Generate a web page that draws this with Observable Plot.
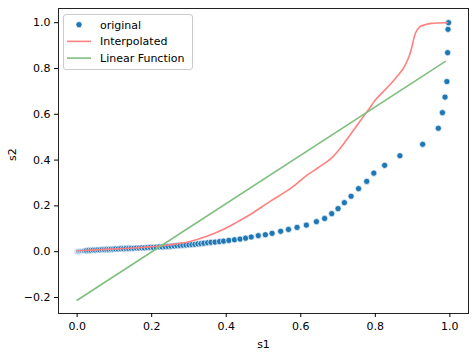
<!DOCTYPE html>
<html>
<head>
<meta charset="utf-8">
<script src="https://cdn.jsdelivr.net/npm/d3@7"></script>
<script src="https://cdn.jsdelivr.net/npm/@observablehq/plot@0.6"></script>
<style>
  html, body { margin: 0; padding: 0; background: white; }
  #chart svg { display: block; }
</style>
</head>
<body>
<div id="chart"></div>
<script>
// "original" scatter points
const origS1 = [0.000,0.004,0.009,0.014,0.019,0.025,0.031,0.037,0.043,0.049,0.055,0.061,0.067,0.073,0.079,0.085,0.091,0.097,0.103,0.110,
  0.117,0.124,0.131,0.138,0.145,0.152,0.159,0.166,0.173,0.180,0.188,0.196,0.204,0.212,0.220,0.228,0.236,0.244,0.252,0.260,
  0.268,0.276,0.284,0.292,0.300,0.308,0.316,0.324,0.332,0.340,0.350,0.359,0.370,0.382,0.393,0.407,0.422,0.437,0.452,0.467,
  0.486,0.505,0.523,0.546,0.567,0.590,0.615,0.642,0.664,0.683,0.700,0.717,0.735,0.755,0.777,0.796,0.825,0.866,0.927,0.969,
  0.980,0.987,0.992,0.994,0.995,0.9965];
const origS2 = [0.000,0.001,0.002,0.003,0.004,0.005,0.006,0.006,0.007,0.007,0.008,0.008,0.009,0.009,0.010,0.010,0.011,0.011,0.012,0.012,
  0.013,0.013,0.014,0.014,0.015,0.015,0.016,0.016,0.017,0.017,0.018,0.019,0.019,0.020,0.021,0.021,0.022,0.023,0.024,0.025,
  0.026,0.027,0.028,0.029,0.030,0.031,0.032,0.034,0.035,0.037,0.039,0.041,0.042,0.044,0.046,0.049,0.052,0.055,0.059,0.064,
  0.070,0.074,0.080,0.089,0.097,0.106,0.116,0.131,0.145,0.166,0.188,0.214,0.242,0.275,0.307,0.343,0.377,0.419,0.469,0.539,
  0.607,0.675,0.743,0.869,0.971,1.000];

// "Interpolated" curve
const interpS1 = [0.000,0.050,0.100,0.150,0.200,0.250,0.300,0.350,0.400,0.430,0.470,0.520,0.560,0.580,0.610,0.650,0.680,0.700,0.720,0.736,
  0.760,0.786,0.800,0.820,0.840,0.857,0.875,0.890,0.897,0.908,0.919,0.935,0.950,0.970,0.994];
const interpS2 = [0.004,0.008,0.012,0.016,0.022,0.030,0.043,0.068,0.103,0.130,0.168,0.222,0.262,0.285,0.326,0.370,0.405,0.440,0.482,0.518,
  0.572,0.630,0.662,0.697,0.730,0.763,0.800,0.850,0.887,0.955,0.982,0.992,0.997,0.999,1.000];

// "Linear Function"
const linS1 = [0.000, 0.988];
const linS2 = [-0.212, 0.831];

const xTicks = [0.0, 0.2, 0.4, 0.6, 0.8, 1.0];
const yTicks = [-0.2, 0.0, 0.2, 0.4, 0.6, 0.8, 1.0];

const orig = origS1.map((s1, i) => ({s1, s2: origS2[i], i}));
const interp = interpS1.map((s1, i) => ({s1, s2: interpS2[i]}));
const lin = linS1.map((s1, i) => ({s1, s2: linS2[i]}));

const BLUE = "#1f77b4", RED = "#ff8080", GREEN = "#80bf80";
const FS = 11;

const chart = Plot.plot({
  width: 474,
  height: 354,
  marginLeft: 58,
  marginRight: 6,
  marginTop: 8,
  marginBottom: 41,
  style: {fontFamily: "DejaVu Sans", fontSize: FS + "px", color: "#000", background: "white"},
  x: {domain: [-0.05, 1.05]},
  y: {domain: [-0.27, 1.062]},
  marks: [
    Plot.dot(orig, {x: "s1", y: "s2", r: 3.1, fill: BLUE, stroke: "white", strokeWidth: 0.7,
      fillOpacity: d => d.i < 5 ? 0.35 : 1}),
    Plot.line(interp, {x: "s1", y: "s2", stroke: RED, strokeWidth: 1.6, curve: "catmull-rom"}),
    Plot.line(lin, {x: "s1", y: "s2", stroke: GREEN, strokeWidth: 1.6}),
    Plot.frame({stroke: "#222", strokeWidth: 1}),
    Plot.axisX({ticks: xTicks, tickFormat: d3.format(".1f"), tickSize: 4, tickPadding: 5, label: null, fontSize: FS}),
    Plot.axisY({ticks: yTicks, tickFormat: d3.format(".1f"), tickSize: 4, tickPadding: 4, label: null, fontSize: FS}),
    Plot.text(["s1"], {frameAnchor: "bottom", dy: 31, lineAnchor: "middle", fontSize: FS, fill: "#000"}),
    Plot.text(["s2"], {frameAnchor: "left", dx: -46, rotate: -90, lineAnchor: "middle", fontSize: FS, fill: "#000"})
  ]
});
document.getElementById("chart").appendChild(chart);

// In-plot legend (upper left)
const svg = d3.select(chart);
const lg = svg.append("g").attr("font-family", "DejaVu Sans").attr("font-size", FS).attr("text-anchor", "start");
lg.append("rect").attr("x", 63.5).attr("y", 14.5).attr("width", 129).attr("height", 55)
  .attr("rx", 2.5).attr("fill", "white").attr("fill-opacity", 0.8).attr("stroke", "#cccccc");
const entries = [
  {label: "original", type: "dot", color: BLUE},
  {label: "Interpolated", type: "line", color: RED},
  {label: "Linear Function", type: "line", color: GREEN}
];
entries.forEach((e, k) => {
  const cy = 24.7 + k * 16.7;
  if (e.type === "dot") {
    lg.append("circle").attr("cx", 79).attr("cy", cy).attr("r", 3.1).attr("fill", e.color)
      .attr("stroke", "white").attr("stroke-width", 0.7);
  } else {
    lg.append("line").attr("x1", 67).attr("x2", 91).attr("y1", cy).attr("y2", cy)
      .attr("stroke", e.color).attr("stroke-width", 1.6);
  }
  lg.append("text").attr("x", 100).attr("y", cy).attr("dy", "0.35em").attr("fill", "#000")
    .attr("text-anchor", "start").text(e.label);
});
</script>
</body>
</html>
